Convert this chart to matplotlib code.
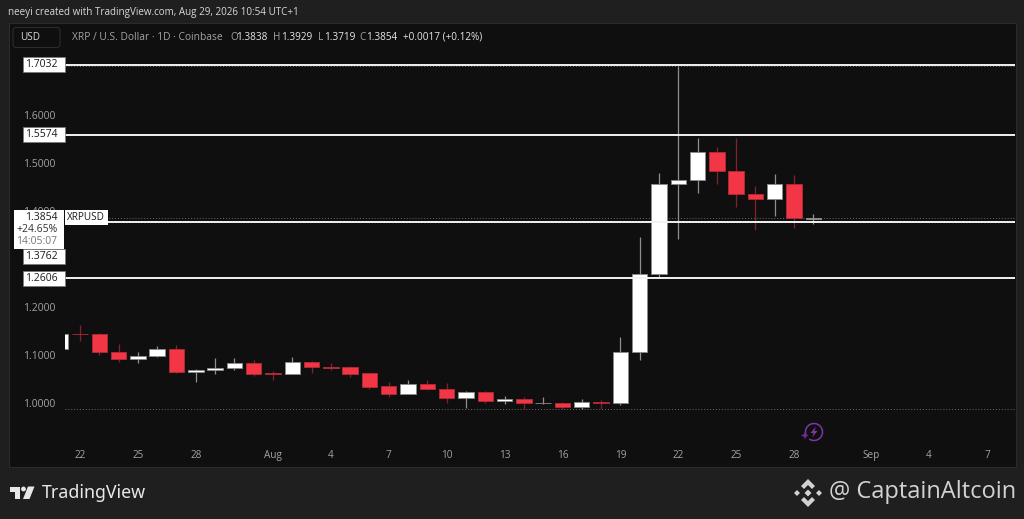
import matplotlib
matplotlib.use("Agg")
import matplotlib.pyplot as plt
from matplotlib.patches import Rectangle, FancyBboxPatch, Polygon, Arc

plt.rcParams["font.family"] = "Open Sans"

# ------------------------------
# Data
# ------------------------------
opens = [1.112, 1.144, 1.143, 1.107, 1.091, 1.097, 1.113, 1.065, 1.068, 1.073,
         1.083, 1.062, 1.060, 1.085, 1.075, 1.074, 1.062, 1.035, 1.019, 1.039,
         1.029, 1.011, 1.022, 1.004, 1.008, 0.999, 1.001, 0.992, 1.003, 1.001,
         1.106, 1.269, 1.456, 1.464, 1.523, 1.483, 1.436, 1.424, 1.456, 1.3838]
highs = [1.150, 1.162, 1.146, 1.122, 1.107, 1.119, 1.121, 1.070, 1.093, 1.094,
         1.090, 1.067, 1.096, 1.088, 1.083, 1.077, 1.063, 1.043, 1.048, 1.048,
         1.041, 1.026, 1.025, 1.015, 1.013, 1.012, 1.003, 1.008, 1.006, 1.137,
         1.346, 1.479, 1.702, 1.553, 1.533, 1.552, 1.453, 1.478, 1.475, 1.3929]
lows = [1.105, 1.130, 1.101, 1.085, 1.084, 1.096, 1.062, 1.044, 1.061, 1.068,
        1.056, 1.047, 1.060, 1.062, 1.069, 1.054, 1.029, 1.012, 1.019, 1.027,
        1.001, 0.990, 1.001, 0.998, 0.987, 0.998, 0.988, 0.987, 0.987, 0.995,
        1.090, 1.263, 1.342, 1.437, 1.456, 1.408, 1.360, 1.390, 1.365, 1.3719]
closes = [1.144, 1.143, 1.107, 1.091, 1.097, 1.113, 1.065, 1.068, 1.073, 1.083,
          1.060, 1.060, 1.086, 1.074, 1.073, 1.061, 1.034, 1.019, 1.040, 1.029,
          1.011, 1.023, 1.005, 1.008, 0.999, 1.001, 0.992, 1.002, 1.001, 1.106,
          1.269, 1.456, 1.465, 1.523, 1.483, 1.436, 1.424, 1.456, 1.385, 1.3854]
first_day = -1  # Jul 21, just cut off by the left edge

levels = [1.7032, 1.5574, 1.3762, 1.2606]
level_labels = ["1.7032", "1.5574", "1.3762", "1.2606"]
level_label_px = [64, 134, 256, 278]
dotted_levels = [1.7025, 1.3854, 0.9865]

y_ticks = [1.0, 1.1, 1.2, 1.4, 1.5, 1.6]
y_tick_labels = ["1.0000", "1.1000", "1.2000", "1.4000", "1.5000", "1.6000"]
x_ticks = [0, 3, 6, 10, 13, 16, 19, 22, 25, 28, 31, 34, 37, 41, 44, 47]
x_tick_labels = ["22", "25", "28", "Aug", "4", "7", "10", "13", "16", "19", "22", "25", "28", "Sep", "4", "7"]

BG = "#1f1f1f"
PANEL = "#0f0f0f"
RED = "#f23645"
RED_WICK = "#85212c"
WHITE_WICK = "#8f8f8f"
GRAY = "#a3a3a3"

# ------------------------------
# Figure and panels
# ------------------------------
fig = plt.figure(figsize=(10.24, 5.19), dpi=100, facecolor=BG)

back = fig.add_axes([0, 0, 1, 1], zorder=0)
back.set_xlim(0, 1024)
back.set_ylim(519, 0)
back.axis("off")
back.add_patch(Rectangle((8.5, 23), 1007, 444, fc=PANEL, ec="#2b2b2b", lw=0.8))

# main price axes: 65..1015 px across, 50..440 px down
ax = fig.add_axes([65 / 1024, 1 - 440 / 519, 950 / 1024, 390 / 519], zorder=1)
ax.patch.set_alpha(0)
ax.set_xlim(-0.777, 48.45)
ax.set_ylim(1 + (403 - 440) / 480, 1 + (403 - 50) / 480)
for s in ax.spines.values():
    s.set_visible(False)

# ------------------------------
# Candles
# ------------------------------
for i in range(len(opens)):
    day = first_day + i
    up = closes[i] >= opens[i]
    ax.vlines(day, lows[i], highs[i], color=WHITE_WICK if up else RED_WICK, lw=0.9, zorder=2)
    bottom = min(opens[i], closes[i])
    height = abs(closes[i] - opens[i])
    ax.bar(day, height, bottom=bottom, width=0.8, color="white" if up else RED,
           edgecolor="#8a8a8a" if up else "#b52a38", lw=0.6, zorder=2.5)

# ------------------------------
# Levels
# ------------------------------
for lv in levels:
    ax.axhline(lv, color="#f2f2f2", lw=1.4, zorder=3)
for lv in dotted_levels:
    ax.axhline(lv, color="#6a6a6a", lw=0.7, ls=(0, (1, 2)), zorder=1.5)

ax.set_xticks(x_ticks)
ax.set_xticklabels(x_tick_labels, fontsize=7.2, color=GRAY, fontweight="medium")
ax.set_yticks(y_ticks)
ax.set_yticklabels(y_tick_labels, fontsize=7.5, color=GRAY)
ax.tick_params(axis="x", length=0, pad=7)
ax.tick_params(axis="y", length=0, pad=7)

# ------------------------------
# Labels, header, footer
# ------------------------------
top = fig.add_axes([0, 0, 1, 1], zorder=2)
top.set_xlim(0, 1024)
top.set_ylim(519, 0)
top.axis("off")

top.text(8, 13, "neeyi created with TradingView.com, Aug 29, 2026 10:54 UTC+1",
         fontsize=7.15, color="#d8d8d8", va="center", fontweight="medium")

top.add_patch(FancyBboxPatch((13, 27.5), 47, 20, boxstyle="round,pad=0,rounding_size=3",
                             fc=PANEL, ec="#2c2c2c", lw=0.8))
top.text(20, 38, "USD", fontsize=7.2, color="#d8d8d8", va="center")

top.text(72, 37, "XRP / U.S. Dollar \u00b7 1D \u00b7 Coinbase", fontsize=7.35, color=GRAY, va="center")
legend_parts = [(230, "O", GRAY), (236.5, "1.3838", "#e6e6e6"), (273.5, "H", GRAY), (281, "1.3929", "#e6e6e6"),
                (318, "L", GRAY), (324, "1.3719", "#e6e6e6"), (359.5, "C", GRAY), (366, "1.3854", "#e6e6e6"),
                (403, "+0.0017 (+0.12%)", "#e6e6e6")]
for px, txt, col in legend_parts:
    top.text(px, 37, txt, fontsize=7.2, color=col, va="center")

for txt, py in zip(level_labels, level_label_px):
    top.add_patch(Rectangle((22.5, py - 7.5), 42, 15, fc="white", ec="#777777", lw=0.5))
    top.text(57.5, py + 0.8, txt, fontsize=7.5, color="#1a1a1a", ha="right", va="center")

top.add_patch(Rectangle((13.5, 209.5), 50.5, 39.5, fc="white", ec="none"))
top.text(57.5, 218, "1.3854", fontsize=7.5, color="#1a1a1a", ha="right", va="center")
top.text(57.5, 229.8, "+24.65%", fontsize=7.5, color="#333333", ha="right", va="center")
top.text(57.5, 241.8, "14:05:07", fontsize=7.5, color="#777777", ha="right", va="center")
top.add_patch(Rectangle((65, 209.5), 42.5, 15.5, fc="white", ec="none"))
top.text(86.3, 218, "XRPUSD", fontsize=7.2, color="#1a1a1a", ha="center", va="center")

# lightning badge
PURPLE = "#7f35a8"
top.add_patch(Arc((814, 432), 17, 17, theta1=-200, theta2=125, color=PURPLE, lw=1.1))
top.add_patch(Polygon([(816, 426.5), (810.5, 433), (813.5, 433), (812, 437.5), (817.5, 431), (814.5, 431)],
                      fc=PURPLE, ec="none"))
top.add_patch(Polygon([(805, 431.5), (806, 434), (808.5, 435.5), (806, 437), (805, 439.5), (804, 437),
                       (801, 435.5), (804, 434)], fc="#6a2b93", ec="none"))

# TradingView logo
top.add_patch(Polygon([(10, 486.5), (19.5, 486.5), (19.5, 499), (14.5, 499), (14.5, 491.5), (10, 491.5)],
                      fc="#e8e8e8", ec="none"))
top.add_patch(Polygon([(28, 486.5), (34.5, 486.5), (29.5, 499), (23, 499)], fc="#e8e8e8", ec="none"))
top.add_patch(plt.Circle((23.5, 489), 2.4, fc="#e8e8e8", ec="none"))
top.text(41.5, 493, "TradingView", fontsize=12.8, color="#e8e8e8", fontweight="bold",
         family="Noto Sans", va="center")

# Binance-style mark
LOGO = "#d2d2d2"
cx, cy = 808, 493
top.add_patch(Polygon([(cx, cy - 14), (cx + 7, cy - 7), (cx + 4, cy - 4), (cx, cy - 8), (cx - 4, cy - 4), (cx - 7, cy - 7)],
                      fc=LOGO, ec="none"))
top.add_patch(Polygon([(cx, cy + 14), (cx + 7, cy + 7), (cx + 4, cy + 4), (cx, cy + 8), (cx - 4, cy + 4), (cx - 7, cy + 7)],
                      fc=LOGO, ec="none"))
top.add_patch(Polygon([(cx - 14, cy), (cx - 11, cy - 3), (cx - 8, cy), (cx - 11, cy + 3)], fc=LOGO, ec="none"))
top.add_patch(Polygon([(cx + 14, cy), (cx + 11, cy - 3), (cx + 8, cy), (cx + 11, cy + 3)], fc=LOGO, ec="none"))
top.add_patch(Polygon([(cx, cy - 3.5), (cx + 3.5, cy), (cx, cy + 3.5), (cx - 3.5, cy)], fc=LOGO, ec="none"))
top.text(1016, 492, "@ CaptainAltcoin", fontsize=17, color=LOGO, ha="right", va="center")

fig.savefig("out.png", dpi=100, facecolor=BG)
